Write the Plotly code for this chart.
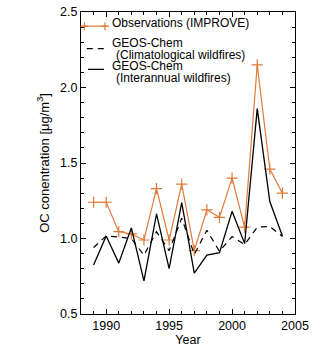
import plotly.graph_objects as go

years = list(range(1989, 2005))
obs_improve = [1.24, 1.24, 1.045, 1.03, 0.99, 1.33, 0.99, 1.36, 0.92, 1.19, 1.14, 1.40, 1.075, 2.15, 1.46, 1.30]
gc_climatological = [0.94, 1.017, 1.01, 1.00, 0.89, 1.045, 0.92, 1.135, 0.895, 1.055, 0.915, 1.013, 0.96, 1.075, 1.08, 1.013]
gc_interannual = [0.824, 1.017, 0.837, 1.07, 0.72, 1.163, 0.80, 1.238, 0.77, 0.89, 0.906, 1.18, 0.966, 1.86, 1.245, 1.017]

y_ticks = [0.5, 1.0, 1.5, 2.0, 2.5]
x_ticks = [1990, 1995, 2000, 2005]

orange = "#E07A3A"
font_family = "Liberation Sans, Arial, sans-serif"
fs = 12

fig = go.Figure()
fig.add_trace(go.Scatter(
    x=years, y=obs_improve, mode="lines+markers",
    name="Observations (IMPROVE)",
    line=dict(color=orange, width=1.2),
    marker=dict(symbol="cross-thin", size=8, line=dict(color=orange, width=1.2)),
))
fig.add_trace(go.Scatter(
    x=years, y=gc_climatological, mode="lines",
    name="GEOS-Chem (Climatological wildfires)",
    line=dict(color="black", width=1.2, dash="6px,5px"),
))
fig.add_trace(go.Scatter(
    x=years, y=gc_interannual, mode="lines",
    name="GEOS-Chem (Interannual wildfires)",
    line=dict(color="black", width=1.3),
))

# Legend drawn as key samples + text lines in the upper-left corner of the plot
shapes = [
    dict(type="line", xref="paper", yref="paper", x0=0.005, x1=0.126, y0=0.953, y1=0.953,
         line=dict(color=orange, width=1.2)),
    dict(type="line", xref="paper", yref="paper", x0=0.027, x1=0.107, y0=0.879, y1=0.879,
         line=dict(color="black", width=1.2, dash="6px,5px")),
    dict(type="line", xref="paper", yref="paper", x0=0.033, x1=0.107, y0=0.810, y1=0.810,
         line=dict(color="black", width=1.3)),
]
for xc in (0.016, 0.112):
    shapes.append(dict(type="line", xref="paper", yref="paper", xsizemode="pixel", ysizemode="pixel",
                       xanchor=xc, yanchor=0.953, x0=-4, x1=4, y0=0, y1=0,
                       line=dict(color=orange, width=1.2)))
    shapes.append(dict(type="line", xref="paper", yref="paper", xsizemode="pixel", ysizemode="pixel",
                       xanchor=xc, yanchor=0.953, x0=0, x1=0, y0=-4, y1=4,
                       line=dict(color=orange, width=1.2)))

legend_lines = [
    ("Observations (IMPROVE)", 0.140, 0.963),
    ("GEOS-Chem", 0.138, 0.898),
    ("(Climatological wildfires)", 0.157, 0.857),
    ("GEOS-Chem", 0.138, 0.820),
    ("(Interannual wildfires)", 0.157, 0.783),
]
annotations = [
    dict(text=t, x=x, y=y, xref="paper", yref="paper", xanchor="left", yanchor="middle",
         showarrow=False, borderpad=0, font=dict(family=font_family, size=fs, color="black"))
    for t, x, y in legend_lines
]

axis_common = dict(
    showline=True, linecolor="black", linewidth=1.2, mirror="ticks",
    ticks="inside", ticklen=5, tickwidth=1, tickcolor="black",
    showgrid=False, zeroline=False,
    tickfont=dict(family=font_family, size=12.5, color="black"),
)

fig.update_layout(
    width=325, height=364,
    margin=dict(l=81, r=30, t=5, b=50),
    paper_bgcolor="white", plot_bgcolor="white",
    font=dict(family=font_family, size=fs, color="black"),
    showlegend=False,
    shapes=shapes,
    annotations=annotations,
    xaxis=dict(
        range=[1988, 2005], tickvals=x_ticks,
        minor=dict(dtick=1, ticks="inside", ticklen=3, tickcolor="black"),
        title=dict(text="Year", standoff=1, font=dict(size=12.5)),
        ticklabeloverflow="allow",
        **axis_common,
    ),
    yaxis=dict(
        range=[0.5, 2.5], tickvals=y_ticks, ticktext=[f"{v:.1f}" for v in y_ticks],
        minor=dict(dtick=0.1, ticks="inside", ticklen=3, tickcolor="black"),
        title=dict(text="OC conentration [μg/m<sup>3</sup>]", standoff=7, font=dict(size=13)),
        ticklabeloverflow="allow",
        **axis_common,
    ),
)

fig.write_html("out.html")
